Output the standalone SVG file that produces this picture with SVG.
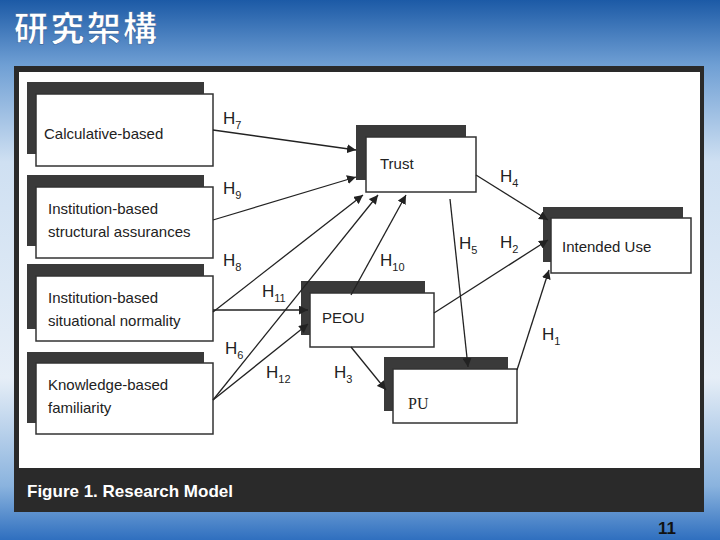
<svg xmlns="http://www.w3.org/2000/svg" width="720" height="540" viewBox="0 0 720 540">
<defs>
<linearGradient id="bg" x1="0" y1="0" x2="0" y2="1">
<stop offset="0" stop-color="#1c5aa6"/><stop offset="0.12" stop-color="#6f9fd4"/><stop offset="0.3" stop-color="#cfe0f2"/><stop offset="0.7" stop-color="#e6eef7"/><stop offset="0.9" stop-color="#8ab3de"/><stop offset="1" stop-color="#2f6fbf"/>
</linearGradient>
<marker id="ar" viewBox="0 0 10 10" refX="10" refY="5" markerWidth="9" markerHeight="9" markerUnits="userSpaceOnUse" orient="auto"><path d="M0,0L10,5L0,10z" fill="#222"/></marker>
<style>
.sh{fill:#3a3a3a}.bx{fill:#fff;stroke:#333;stroke-width:1.5}
.t{font-family:"Liberation Sans",Arial,sans-serif;font-size:15px;fill:#222}
.h{font-family:"Liberation Sans",Arial,sans-serif;font-size:17px;fill:#222}
.s{font-size:11px}
.c line{stroke:#222;stroke-width:1.3;marker-end:url(#ar)}
</style>
</defs>
<rect width="720" height="540" fill="url(#bg)"/>
<text x="14" y="41" font-family="'Noto Sans CJK TC',sans-serif" font-size="34" font-weight="bold" fill="#fff" stroke="#2a5a99" stroke-width="0.6" textLength="143">研究架構</text>
<rect x="14" y="66" width="690" height="446" fill="#2a2a2a"/>
<rect x="19" y="72" width="681" height="396" fill="#fff"/>
<text x="27" y="497" font-family="'Liberation Sans',Arial,sans-serif" font-size="17" font-weight="bold" fill="#fff">Figure 1.  Research Model</text>
<g id="calc"><rect class="sh" x="27" y="82" width="177" height="72"/><rect class="bx" x="36" y="94" width="177" height="72"/><text class="t" x="44" y="139">Calculative-based</text></g>
<g id="struct"><rect class="sh" x="27" y="175" width="177" height="71"/><rect class="bx" x="36" y="187" width="177" height="71"/><text class="t" x="48" y="214">Institution-based</text><text class="t" x="48" y="237">structural assurances</text></g>
<g id="situ"><rect class="sh" x="27" y="264" width="177" height="65"/><rect class="bx" x="36" y="276" width="177" height="65"/><text class="t" x="48" y="303">Institution-based</text><text class="t" x="48" y="326">situational normality</text></g>
<g id="know"><rect class="sh" x="27" y="352" width="177" height="71"/><rect class="bx" x="36" y="363" width="177" height="71"/><text class="t" x="48" y="390">Knowledge-based</text><text class="t" x="48" y="413">familiarity</text></g>
<g id="trust"><rect class="sh" x="356" y="125" width="110" height="55"/><rect class="bx" x="366" y="137" width="110" height="55"/><text class="t" x="380" y="169">Trust</text></g>
<g id="use"><rect class="sh" x="543" y="207" width="140" height="55"/><rect class="bx" x="551" y="218" width="140" height="55"/><text class="t" x="562" y="252">Intended Use</text></g>
<g id="peou"><rect class="sh" x="301" y="281" width="124" height="54"/><rect class="bx" x="310" y="293" width="124" height="54"/><text class="t" x="322" y="323">PEOU</text></g>
<g id="pu"><rect class="sh" x="384" y="357" width="124" height="54"/><rect class="bx" x="393" y="369" width="124" height="54"/><text x="408" y="409" font-family="'Liberation Serif',serif" font-size="16" fill="#222">PU</text></g>
<g class="c" id="connectors">
<line x1="213" y1="130" x2="356" y2="150"/>
<line x1="213" y1="220" x2="356" y2="177"/>
<line x1="213" y1="312" x2="363" y2="195"/>
<line x1="213" y1="400" x2="378" y2="195"/>
<line x1="213" y1="310" x2="308" y2="310"/>
<line x1="213" y1="400" x2="308" y2="324"/>
<line x1="351" y1="295" x2="406" y2="195"/>
<line x1="450" y1="199" x2="468" y2="367"/>
<line x1="476" y1="175" x2="548" y2="220"/>
<line x1="434" y1="313" x2="548" y2="240"/>
<line x1="517" y1="370" x2="549" y2="270"/>
<line x1="351" y1="347" x2="386" y2="390"/>
</g>
<g class="h">
<text x="223" y="124">H<tspan class="s" dy="5">7</tspan></text>
<text x="223" y="194">H<tspan class="s" dy="5">9</tspan></text>
<text x="223" y="266">H<tspan class="s" dy="5">8</tspan></text>
<text x="262" y="297">H<tspan class="s" dy="5">11</tspan></text>
<text x="225" y="354">H<tspan class="s" dy="5">6</tspan></text>
<text x="266" y="378">H<tspan class="s" dy="5">12</tspan></text>
<text x="380" y="266">H<tspan class="s" dy="5">10</tspan></text>
<text x="334" y="378">H<tspan class="s" dy="5">3</tspan></text>
<text x="459" y="249">H<tspan class="s" dy="5">5</tspan></text>
<text x="500" y="248">H<tspan class="s" dy="5">2</tspan></text>
<text x="500" y="182">H<tspan class="s" dy="5">4</tspan></text>
<text x="542" y="340">H<tspan class="s" dy="5">1</tspan></text>
</g>
<text x="658" y="534" font-family="'Liberation Sans',Arial,sans-serif" font-size="17" font-weight="bold" fill="#111">11</text>
</svg>
